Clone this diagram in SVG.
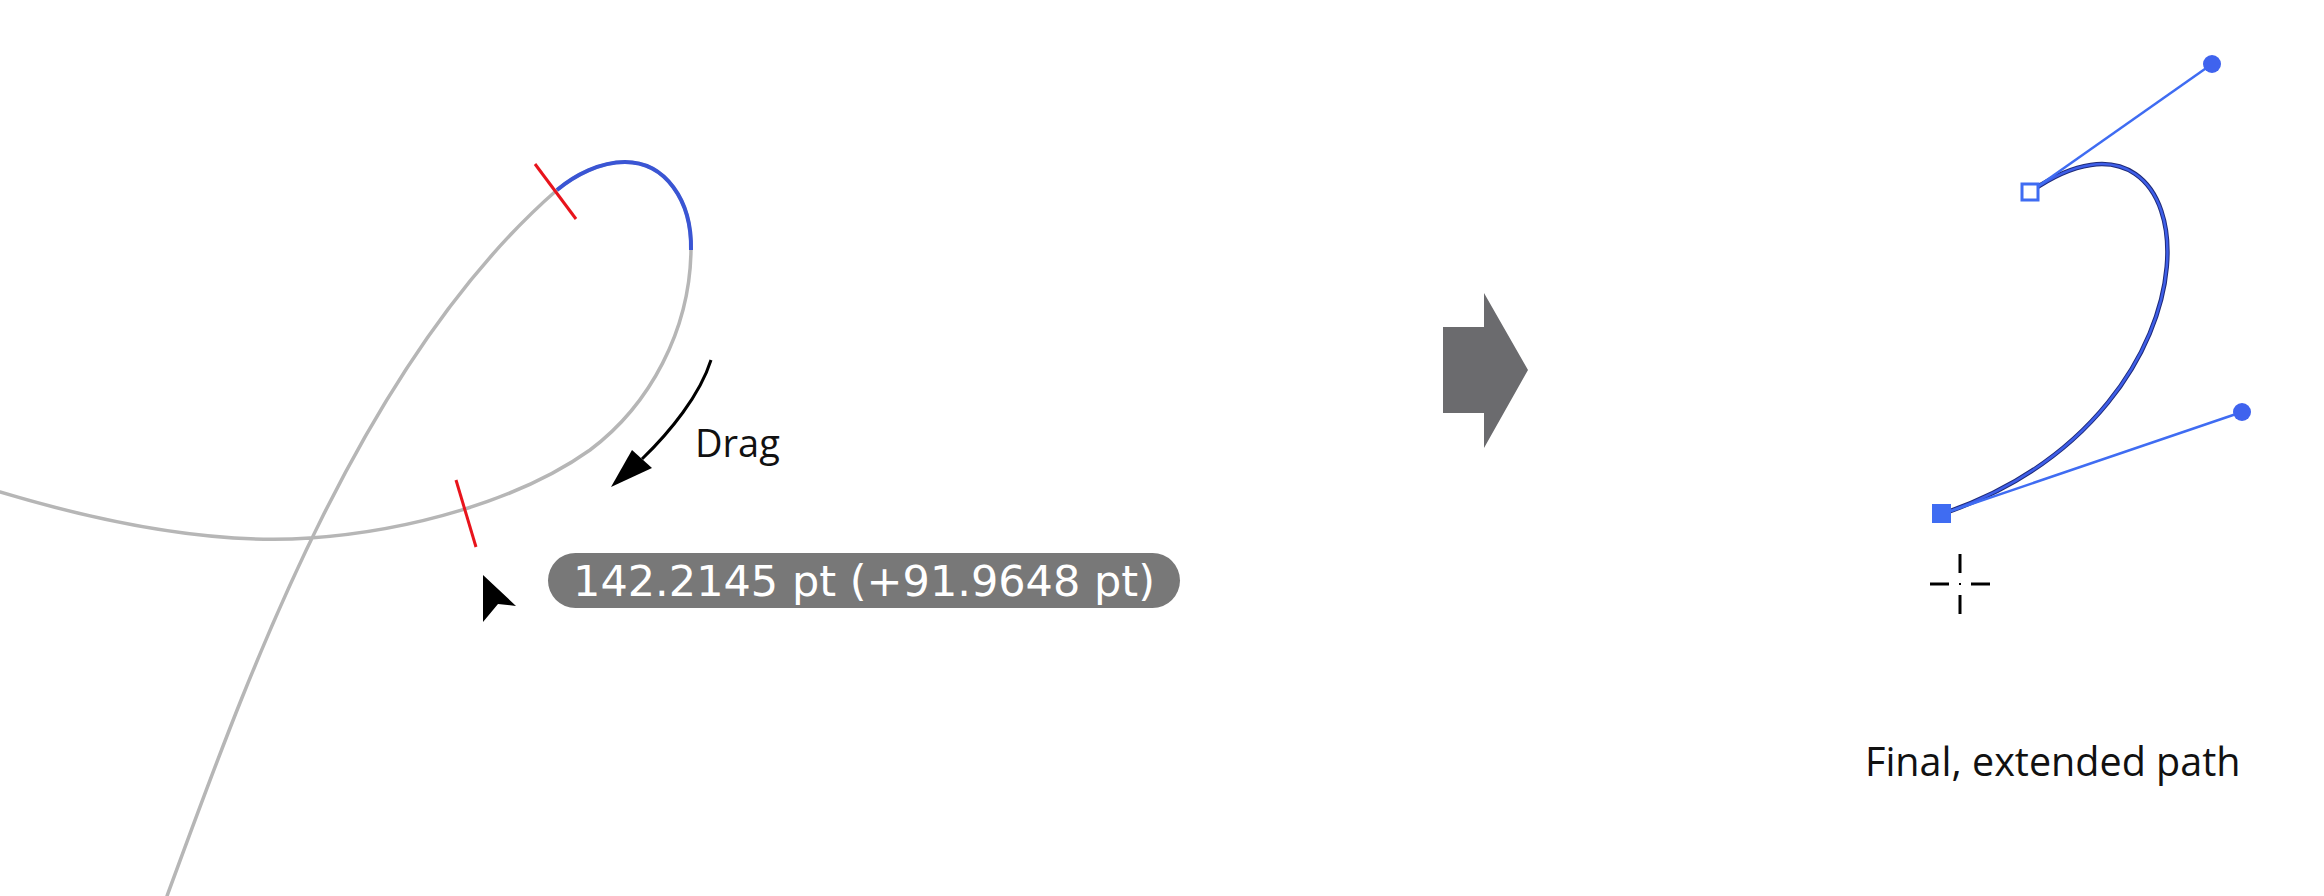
<svg xmlns="http://www.w3.org/2000/svg" width="2324" height="896" viewBox="0 0 2324 896">
<style>
.gray{fill:none;stroke:#b6b6b6;stroke-width:3.5;stroke-linecap:round}
.sel{fill:none;stroke:#3a55d4;stroke-width:4;stroke-linecap:butt}
.tick{stroke:#e8141c;stroke-width:3}
.handle{stroke:#3f6cf2;stroke-width:2.5;fill:none}
.lbl{font-family:"Open Sans","Noto Sans",sans-serif;fill:#111}
</style>
<rect width="2324" height="896" fill="#ffffff"/>
<g id="left-path">
<path class="gray" d="M0,492 C100,522 210,545 310,538 C410,531 520,500 590,450 C650,405 690,330 691,250 C692,200 665,162 625,162 C600,162 575,175 557,190 C355,366 241,696 167,896"/>
<path class="sel" d="M691,250 C692,200 665,162 625,162 C600,162 575,175 557,190"/>
<line class="tick" x1="535" y1="164" x2="576" y2="219"/>
<line class="tick" x1="456" y1="480" x2="476" y2="547"/>
</g>
<g id="drag-arrow">
<path d="M711,360 C700,395 670,432 642,459" fill="none" stroke="#000" stroke-width="3"/>
<polygon points="611,487 632,450 652,468" fill="#000"/>
<text class="lbl" x="695" y="457" font-size="38">Drag</text>
</g>
<g id="cursor">
<polygon points="483,575 516,606 498,604 483,622" fill="#000"/>
</g>
<g id="measure-label">
<rect x="548" y="553" width="632" height="55" rx="27.5" fill="#787878"/>
<text x="864" y="596" font-size="43" text-anchor="middle" fill="#ffffff" font-family="'DejaVu Sans','Open Sans',sans-serif">142.2145 pt (+91.9648 pt)</text>
</g>
<g id="big-arrow">
<polygon points="1443,327 1484,327 1484,293 1528,370 1484,448 1484,413 1443,413" fill="#6b6b6e"/>
</g>
<g id="right-path">
<path d="M2030,192 C2212,64 2242,412 1942,514" fill="none" stroke="#1e2a78" stroke-width="4.5"/>
<path d="M2030,192 C2212,64 2242,412 1942,514" fill="none" stroke="#3e5ee8" stroke-width="2.5"/>
<line class="handle" x1="2030" y1="192" x2="2212" y2="64"/>
<line class="handle" x1="1942" y1="514" x2="2242" y2="412"/>
<circle cx="2212" cy="64" r="9" fill="#3f63ee"/>
<circle cx="2242" cy="412" r="9" fill="#3f63ee"/>
<rect x="2022" y="184" width="16" height="16" fill="#ffffff" stroke="#3f6cf2" stroke-width="3"/>
<rect x="1932" y="504" width="19" height="19" fill="#3f6cf2"/>
</g>
<g id="crosshair" stroke="#000" stroke-width="3">
<line x1="1930" y1="584" x2="1949" y2="584"/>
<line x1="1971" y1="584" x2="1990" y2="584"/>
<line x1="1960" y1="554" x2="1960" y2="573"/>
<line x1="1960" y1="595" x2="1960" y2="614"/>
<rect x="1959" y="583" width="2" height="2" stroke="none" fill="#000"/>
</g>
<g id="caption">
<text class="lbl" x="1865" y="776" font-size="39.5">Final, extended path</text>
</g>
</svg>
